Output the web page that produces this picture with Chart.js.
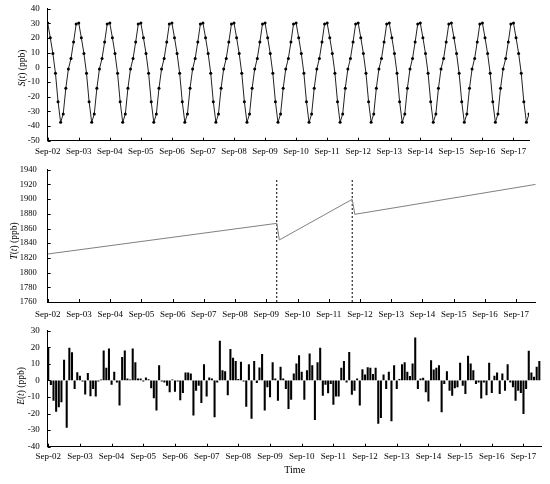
<!DOCTYPE html>
<html>
<head>
<meta charset="utf-8">
<script src="https://cdn.jsdelivr.net/npm/chart.js@4.4.1/dist/chart.umd.min.js"></script>
<style>
  html, body { margin: 0; padding: 0; background: #fff; }
  #wrap { position: relative; width: 550px; height: 484px; }
  canvas { position: absolute; left: 0; }
</style>
</head>
<body>
<div id="wrap">
  <canvas id="seasonal" width="550" height="160" style="top:0"></canvas>
  <canvas id="trend" width="550" height="160" style="top:160px"></canvas>
  <canvas id="residual" width="550" height="164" style="top:320px"></canvas>
</div>
<script>
// x axis: months since Sep-2002
const tickLabels = ['Sep-02', 'Sep-03', 'Sep-04', 'Sep-05', 'Sep-06', 'Sep-07', 'Sep-08', 'Sep-09',
    'Sep-10', 'Sep-11', 'Sep-12', 'Sep-13', 'Sep-14', 'Sep-15', 'Sep-16', 'Sep-17'];
const tickMonths = [0, 12, 24, 36, 48, 60, 72, 84, 96, 108, 120, 132, 144, 156, 168, 180];

// S(t), monthly, Sep-02 .. Mar-18
const seasonal = [
    30.2, 20.2, 9.5, -4.0, -23.4, -37.5, -31.8, -14.3, -1.1, 6.1, 17.3, 29.5,
    30.2, 20.2, 9.5, -4.0, -23.4, -37.5, -31.8, -14.3, -1.1, 6.1, 17.3, 29.5,
    30.2, 20.2, 9.5, -4.0, -23.4, -37.5, -31.8, -14.3, -1.1, 6.1, 17.3, 29.5,
    30.2, 20.2, 9.5, -4.0, -23.4, -37.5, -31.8, -14.3, -1.1, 6.1, 17.3, 29.5,
    30.2, 20.2, 9.5, -4.0, -23.4, -37.5, -31.8, -14.3, -1.1, 6.1, 17.3, 29.5,
    30.2, 20.2, 9.5, -4.0, -23.4, -37.5, -31.8, -14.3, -1.1, 6.1, 17.3, 29.5,
    30.2, 20.2, 9.5, -4.0, -23.4, -37.5, -31.8, -14.3, -1.1, 6.1, 17.3, 29.5,
    30.2, 20.2, 9.5, -4.0, -23.4, -37.5, -31.8, -14.3, -1.1, 6.1, 17.3, 29.5,
    30.2, 20.2, 9.5, -4.0, -23.4, -37.5, -31.8, -14.3, -1.1, 6.1, 17.3, 29.5,
    30.2, 20.2, 9.5, -4.0, -23.4, -37.5, -31.8, -14.3, -1.1, 6.1, 17.3, 29.5,
    30.2, 20.2, 9.5, -4.0, -23.4, -37.5, -31.8, -14.3, -1.1, 6.1, 17.3, 29.5,
    30.2, 20.2, 9.5, -4.0, -23.4, -37.5, -31.8, -14.3, -1.1, 6.1, 17.3, 29.5,
    30.2, 20.2, 9.5, -4.0, -23.4, -37.5, -31.8, -14.3, -1.1, 6.1, 17.3, 29.5,
    30.2, 20.2, 9.5, -4.0, -23.4, -37.5, -31.8, -14.3, -1.1, 6.1, 17.3, 29.5,
    30.2, 20.2, 9.5, -4.0, -23.4, -37.5, -31.8, -14.3, -1.1, 6.1, 17.3, 29.5,
    30.2, 20.2, 9.5, -4.0, -23.4, -37.5, -31.8
];

// T(t) breakpoints (month, ppb)
const trendMonths = [0, 88, 89, 117, 118, 187.5];
const trendValues = [1825.3, 1867.0, 1844.4, 1899.7, 1879.3, 1920.0];
const breakMonths = [88, 117];
const breakTop = 1927;

// E(t), monthly
const residual = [
    20.0, -2.5, -12.0, -18.7, -16.0, -13.0, 12.3, -28.4, 19.5, 16.8, -5.0, 4.8,
    2.6, -0.5, -8.3, 4.3, -9.3, -5.0, -9.5, -0.5, 0.4, 17.8, 7.5, 19.0,
    -2.4, 5.0, -1.0, -15.0, 14.0, 17.8, 1.0, 0.3, 19.0, 10.8, 1.0, 1.0,
    -0.5, 1.5, 0.5, -4.5, -10.5, -18.0, 9.0, -0.5, -1.0, -3.0, -7.0, 0.3,
    -6.6, -0.5, -11.7, -7.4, 4.6, 4.6, 4.0, -21.0, -6.0, -3.0, -13.5, 9.5,
    -9.5, 1.6, 1.0, -22.0, -1.0, 23.7, 6.0, 5.4, -8.7, 18.7, 13.5, 11.5,
    0.6, 11.0, -0.5, -15.7, 9.5, -23.0, 11.5, -1.4, 7.6, 15.7, -18.0, -4.0,
    -10.0, 10.7, 1.0, -12.0, 8.0, 1.0, -5.0, -17.0, -11.5, 4.0, 10.0, 15.0,
    5.0, -11.5, 6.0, 16.0, 9.0, -23.7, 10.7, 19.5, -9.0, -2.4, -7.5, -2.0,
    -14.5, -9.5, -9.5, 7.4, 11.5, -1.0, 17.0, -8.5, -6.0, 1.0, -15.0, 6.6,
    3.4, 7.8, 7.4, 3.6, 7.4, -26.0, -22.5, 3.4, -5.0, 5.0, -24.5, 9.0,
    -5.0, 0.6, 9.5, 10.7, 5.0, 2.4, 10.0, 25.7, -5.0, 1.0, 1.4, -7.0,
    -12.5, 12.0, 6.4, 7.4, 9.0, -19.0, -2.0, 5.4, -6.0, -9.0, -4.6, -4.0,
    10.5, -3.0, -8.0, 14.7, 10.0, 6.0, -2.0, -1.0, -10.7, -1.0, -8.7, 10.5,
    -7.4, 2.6, 4.6, -8.0, 4.0, -6.0, 9.5, -1.0, -4.0, -12.0, -6.0, -7.4,
    -20.0, -5.0, 17.7, 4.6, 2.0, 8.0, 11.5
];

Chart.defaults.font.family = "'Liberation Serif', 'Times New Roman', serif";
Chart.defaults.font.size = 9;
Chart.defaults.color = '#000';

// short tick marks pointing into the plot, like the original
const innerTicks = {
    id: 'innerTicks',
    afterDraw(chart) {
        const { ctx, chartArea: a, scales: { x, y } } = chart;
        ctx.save();
        ctx.strokeStyle = '#000';
        ctx.lineWidth = 1;
        ctx.beginPath();
        x.ticks.forEach((t) => {
            const px = Math.round(x.getPixelForValue(t.value)) + 0.5;
            ctx.moveTo(px, a.bottom);
            ctx.lineTo(px, a.bottom - 3);
        });
        y.ticks.forEach((t) => {
            const py = Math.round(y.getPixelForValue(t.value)) + 0.5;
            ctx.moveTo(a.left, py);
            ctx.lineTo(a.left + 3, py);
        });
        ctx.stroke();
        ctx.restore();
    }
};

// axis titles with italic symbols
const axisTitles = {
    id: 'axisTitles',
    afterDraw(chart, args, opts) {
        const ctx = chart.ctx;
        ctx.save();
        ctx.fillStyle = '#000';
        ctx.textBaseline = 'middle';
        if (opts.y) {
            const size = 9.5;
            const fontFor = (it) => (it ? 'italic ' : '') + size + "px 'Liberation Serif', serif";
            let total = 0;
            opts.y.forEach(([txt, it]) => { ctx.font = fontFor(it); total += ctx.measureText(txt).width; });
            ctx.translate(opts.yX, opts.yY);
            ctx.rotate(-Math.PI / 2);
            let cx = -total / 2;
            ctx.textAlign = 'left';
            opts.y.forEach(([txt, it]) => {
                ctx.font = fontFor(it);
                ctx.fillText(txt, cx, 0);
                cx += ctx.measureText(txt).width;
            });
            ctx.setTransform(1, 0, 0, 1, 0, 0);
        }
        if (opts.x) {
            ctx.font = "10px 'Liberation Serif', serif";
            ctx.textAlign = 'center';
            const a = chart.chartArea;
            ctx.fillText(opts.x, (a.left + a.right) / 2, opts.xY);
        }
        ctx.restore();
    }
};

function xAxis(min, max, height, pad) {
    return {
        type: 'linear',
        min: min,
        max: max,
        offset: false,
        grid: { display: false, drawTicks: false, offset: false },
        border: { display: true, color: '#000', width: 1 },
        afterBuildTicks: (s) => { s.ticks = tickMonths.map((v) => ({ value: v })); },
        afterFit: (s) => { s.height = height; },
        ticks: {
            autoSkip: false,
            maxRotation: 0,
            padding: pad,
            callback: (v, i) => tickLabels[i]
        }
    };
}

// the gap between label and axis comes from an invisible tick length,
// so the label padding does not push the plot area down
function yAxis(min, max, step, gap, size) {
    return {
        min: min,
        max: max,
        grid: { display: true, drawOnChartArea: false, drawTicks: true, tickLength: gap, tickColor: 'rgba(0,0,0,0)' },
        border: { display: true, color: '#000', width: 1 },
        afterFit: (s) => { s.width = 47.7; },
        ticks: { stepSize: step, padding: 0, font: { size: size }, callback: (v) => String(v) }
    };
}

function baseOptions(pad, xScale, yScale, titles) {
    return {
        responsive: false,
        animation: false,
        layout: { padding: pad },
        plugins: { legend: { display: false }, tooltip: { enabled: false }, axisTitles: titles },
        scales: { x: xScale, y: yScale }
    };
}

new Chart(document.getElementById('seasonal'), {
    type: 'line',
    data: {
        datasets: [{
            data: seasonal.map((v, i) => ({ x: i, y: v })),
            borderColor: '#222',
            borderWidth: 1,
            pointRadius: 1.5,
            pointBackgroundColor: '#000',
            pointBorderWidth: 0,
            tension: 0
        }]
    },
    options: baseOptions({ left: 0, right: 21, top: 8.7, bottom: 0 },
        xAxis(0, 186, 19.3, 6), yAxis(-50, 40, 10, 8, 9),
        { y: [['S', true], ['(', false], ['t', true], [') (ppb)', false]], yX: 22, yY: 68 }),
    plugins: [innerTicks, axisTitles]
});

new Chart(document.getElementById('trend'), {
    type: 'line',
    data: {
        datasets: [{
            data: trendMonths.map((m, i) => ({ x: m, y: trendValues[i] })),
            borderColor: '#808080',
            borderWidth: 1,
            pointRadius: 0,
            tension: 0
        }].concat(breakMonths.map((m) => ({
            data: [{ x: m, y: 1760 }, { x: m, y: breakTop }],
            borderColor: '#000',
            borderWidth: 1,
            borderDash: [2, 2],
            pointRadius: 0
        })))
    },
    options: baseOptions({ left: 0, right: 14.3, top: 9.7, bottom: 0 },
        xAxis(0, 187.5, 18, 7), yAxis(1760, 1940, 20, 11, 8.5),
        { y: [['T', true], ['(', false], ['t', true], [') (ppb)', false]], yX: 14.5, yY: 81 }),
    plugins: [innerTicks, axisTitles]
});

new Chart(document.getElementById('residual'), {
    type: 'bar',
    data: {
        datasets: [{
            data: residual.map((v, i) => ({ x: i, y: v })),
            backgroundColor: '#000',
            borderWidth: 0,
            barThickness: 1.4
        }]
    },
    options: baseOptions({ left: 0, right: 8.3, top: 10.7, bottom: 0 },
        xAxis(-0.2, 186.9, 37.3, 5), yAxis(-40, 30, 10, 8, 9),
        { y: [['E', true], ['(', false], ['t', true], [') (ppb)', false]], yX: 21, yY: 66, x: 'Time', xY: 150 }),
    plugins: [innerTicks, axisTitles]
});
</script>
</body>
</html>
